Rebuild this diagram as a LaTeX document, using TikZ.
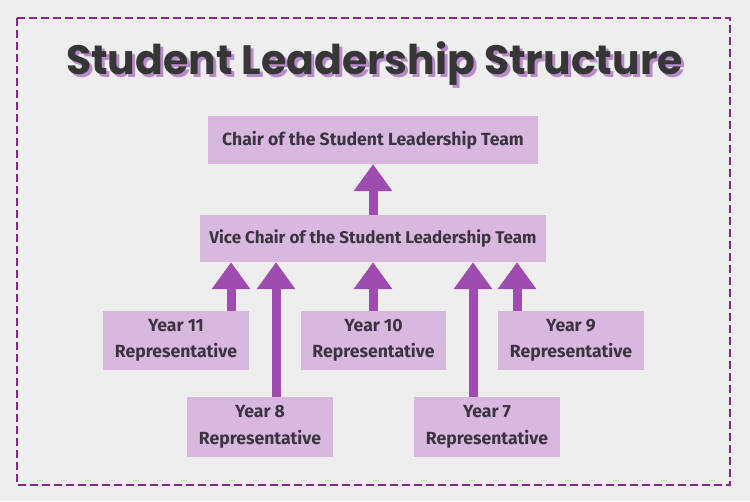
\documentclass[tikz,border=0pt]{standalone}
\usepackage{fontspec}
\setmainfont{Fira Sans}
\newfontfamily\titlefont{Poppins}
\usetikzlibrary{arrows.meta}
\definecolor{paper}{HTML}{EEEEEE}
\definecolor{frame}{HTML}{85278A}
\definecolor{boxfill}{HTML}{D9B8E0}
\definecolor{boxtext}{HTML}{3B3440}
\definecolor{arrowc}{HTML}{9E4CAF}
\definecolor{titlec}{HTML}{363636}
\definecolor{shadowc}{HTML}{B98AC9}
\tikzset{
  rolebox/.style={fill=boxfill, draw=none, inner sep=0pt, align=center,
    text=boxtext, font=\fontsize{17.6}{26.5}\selectfont\bfseries},
  uparrow/.style={draw=arrowc, line width=9pt,
    -{Triangle[width=37pt,length=27pt]}},
  titletext/.style={anchor=base, font=\titlefont\fontsize{41}{44}\selectfont\bfseries},
}
\begin{document}
\begin{tikzpicture}[x=1pt,y=-1pt]
\useasboundingbox (0,0) rectangle (750,501);
\fill[paper] (0,0) rectangle (750,501);
\draw[frame, line width=2.4pt, dash pattern=on 8pt off 4pt] (17,18) rectangle (730,485);
% title
\node[titletext, text=shadowc] (titleshadow) at (377.5,77.5) {Student Leadership Structure};
\node[titletext, text=titlec] (title) at (374.5,74.5) {Student Leadership Structure};
% boxes
\node[rolebox, minimum width=330pt, minimum height=48pt] (chair) at (373,140) {Chair of the Student Leadership Team};
\node[rolebox, minimum width=346pt, minimum height=47pt, font=\fontsize{17}{26}\selectfont\bfseries] (vice) at (373,238.5) {Vice Chair of the Student Leadership Team};
\node[rolebox, minimum width=146pt, minimum height=59pt] (y11) at (176,340.5) {Year 11\\Representative};
\node[rolebox, minimum width=145pt, minimum height=59pt] (y10) at (373.5,340.5) {Year 10\\Representative};
\node[rolebox, minimum width=146pt, minimum height=59pt] (y9) at (571,340.5) {Year 9\\Representative};
\node[rolebox, minimum width=146pt, minimum height=60pt] (y8) at (260,427) {Year 8\\Representative};
\node[rolebox, minimum width=146pt, minimum height=60pt] (y7) at (487,427) {Year 7\\Representative};
% arrow columns
\coordinate (cmid) at (373,0);
\coordinate (c11) at (231,0);
\coordinate (c8) at (276,0);
\coordinate (c7) at (473,0);
\coordinate (c9) at (517,0);
\draw[uparrow] (cmid |- vice.north) -- (cmid |- chair.south);
\draw[uparrow] (c11 |- y11.north) -- (c11 |- vice.south);
\draw[uparrow] (c8 |- y8.north) -- (c8 |- vice.south);
\draw[uparrow] (cmid |- y10.north) -- (cmid |- vice.south);
\draw[uparrow] (c7 |- y7.north) -- (c7 |- vice.south);
\draw[uparrow] (c9 |- y9.north) -- (c9 |- vice.south);
\end{tikzpicture}
\end{document}
